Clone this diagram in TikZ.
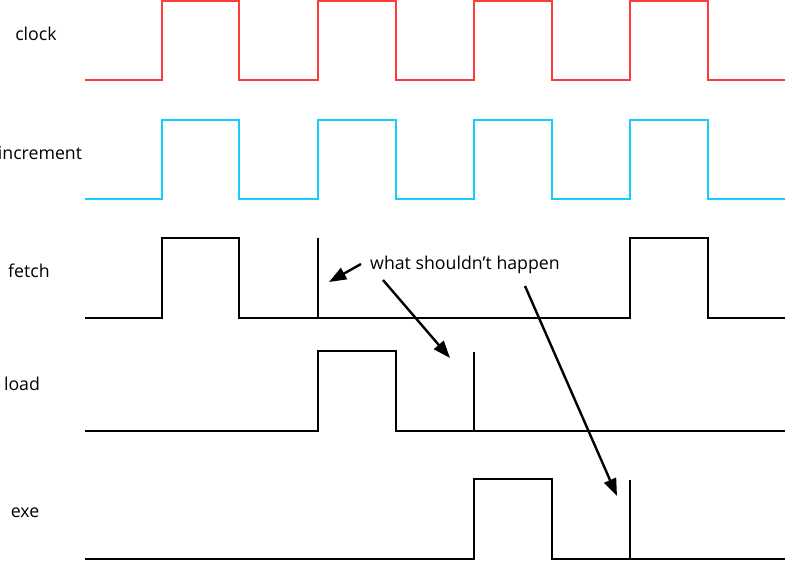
\documentclass[tikz,border=0pt]{standalone}
\usepackage{fontspec}
\setmainfont{Open Sans}
\usetikzlibrary{arrows.meta}
\definecolor{clockred}{RGB}{255,60,60}
\definecolor{inccyan}{RGB}{20,205,255}
\tikzset{
  signal/.style={line width=1.8pt, line join=miter},
  lbl/.style={font=\fontsize{13.3}{16}\selectfont, inner sep=0pt},
  pointer/.style={line width=1.8pt, -{Triangle[length=13pt,width=9.5pt]}, shorten >=0pt}
}
\begin{document}
\begin{tikzpicture}[x=0.75pt,y=-0.75pt]
\useasboundingbox (0,0) rectangle (799,565);
% labels
\node[lbl] (lclock) at (36,34) {clock};
\node[lbl] (linc) at (40,153) {increment};
\node[lbl] (lfetch) at (29,271) {fetch};
\node[lbl] (lload) at (22,384) {load};
\node[lbl] (lexe) at (25,513) {exe};
% clock
\draw[signal, clockred] (85,80) -- (162,80) -- (162,1) -- (239,1) -- (239,80) -- (318,80) -- (318,1) -- (396,1) -- (396,80) -- (474,80) -- (474,1) -- (552,1) -- (552,80) -- (630,80) -- (630,1) -- (708,1) -- (708,80) -- (785,80);
% increment
\draw[signal, inccyan] (85,199) -- (162,199) -- (162,120) -- (239,120) -- (239,199) -- (318,199) -- (318,120) -- (396,120) -- (396,199) -- (474,199) -- (474,120) -- (552,120) -- (552,199) -- (630,199) -- (630,120) -- (708,120) -- (708,199) -- (785,199);
% fetch
\draw[signal] (85,318) -- (162,318) -- (162,238) -- (239,238) -- (239,318) -- (630,318) -- (630,238) -- (708,238) -- (708,318) -- (785,318);
\draw[signal] (318,318) -- (318,238);
% load
\draw[signal] (85,431) -- (318,431) -- (318,351) -- (396,351) -- (396,431) -- (785,431);
\draw[signal] (474,431) -- (474,352);
% exe
\draw[signal] (85,559) -- (474,559) -- (474,479) -- (552,479) -- (552,559) -- (785,559);
\draw[signal] (630,559) -- (630,480);
% annotation
\node[lbl] (note) at (465,265) {what shouldn’t happen};
\coordinate (a1s) at (361,264);
\coordinate (a1e) at (329,282);
\coordinate (a2s) at (383,280);
\coordinate (a2e) at (450,358);
\coordinate (a3s) at (525,286);
\coordinate (a3e) at (617,496);
\draw[pointer] (a1s) -- (a1e);
\draw[pointer] (a2s) -- (a2e);
\draw[pointer] (a3s) -- (a3e);
\end{tikzpicture}
\end{document}
